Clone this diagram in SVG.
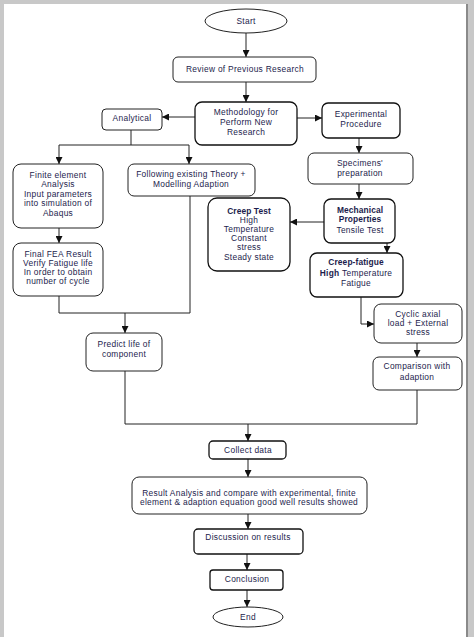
<svg xmlns="http://www.w3.org/2000/svg" width="474" height="637" viewBox="0 0 474 637">
<style>
.b{fill:#fff;stroke:#222;stroke-width:1}
.bb{fill:#fff;stroke:#111;stroke-width:1.3}
.t{font-family:"Liberation Sans",Arial,sans-serif;font-size:8.4px;letter-spacing:0.3px;fill:#1c1c4c;text-anchor:middle}
.tb{font-weight:bold;letter-spacing:0.1px}
.c{fill:none;stroke:#222;stroke-width:1}
</style>
<defs>
<marker id="ah" viewBox="0 0 10 10" refX="10" refY="5" markerWidth="7" markerHeight="7" markerUnits="userSpaceOnUse" orient="auto">
<path d="M0,0 L10,5 L0,10 z" fill="#111"/>
</marker>
</defs>
<rect x="0" y="0" width="474" height="637" fill="#c8c8c8"/>
<rect x="4" y="4" width="462" height="633" fill="#fff"/>
<line x1="467" y1="4" x2="467" y2="637" stroke="#8a8a8a" stroke-width="2"/>

<g id="connectors">
<line class="c" x1="246" y1="33" x2="246" y2="57" marker-end="url(#ah)"/>
<line class="c" x1="246" y1="82" x2="246" y2="102" marker-end="url(#ah)"/>
<line class="c" x1="195" y1="117" x2="162" y2="117" marker-end="url(#ah)"/>
<line class="c" x1="297" y1="118" x2="322" y2="118" marker-end="url(#ah)"/>
<line class="c" x1="359" y1="138" x2="359" y2="153" marker-end="url(#ah)"/>
<polyline class="c" points="131,130 131,145 59,145 59,164" marker-end="url(#ah)"/>
<polyline class="c" points="131,145 189,145 189,164" marker-end="url(#ah)"/>
<line class="c" x1="59" y1="228" x2="59" y2="243" marker-end="url(#ah)"/>
<polyline class="c" points="59,296 59,313 190,313 190,196"/>
<line class="c" x1="125" y1="313" x2="125" y2="333" marker-end="url(#ah)"/>
<line class="c" x1="359" y1="184" x2="359" y2="199" marker-end="url(#ah)"/>
<line class="c" x1="324" y1="222" x2="290" y2="222" marker-end="url(#ah)"/>
<line class="c" x1="387" y1="243" x2="387" y2="253" marker-end="url(#ah)"/>
<polyline class="c" points="361,297 361,324 374,324" marker-end="url(#ah)"/>
<line class="c" x1="417" y1="343" x2="417" y2="357" marker-end="url(#ah)"/>
<polyline class="c" points="125,371 125,424 417,424 417,390"/>
<line class="c" x1="248" y1="424" x2="248" y2="441" marker-end="url(#ah)"/>
<line class="c" x1="248" y1="459" x2="248" y2="477" marker-end="url(#ah)"/>
<line class="c" x1="248" y1="514" x2="248" y2="529" marker-end="url(#ah)"/>
<line class="c" x1="247" y1="554" x2="247" y2="570" marker-end="url(#ah)"/>
<line class="c" x1="247" y1="590" x2="247" y2="607" marker-end="url(#ah)"/>
</g>

<g id="start">
<ellipse class="b" cx="246" cy="21" rx="41" ry="12"/>
<text class="t" x="246" y="24">Start</text>
</g>
<g id="review">
<rect class="b" x="173" y="57" width="143" height="25" rx="5"/>
<text class="t" x="245" y="72">Review of Previous Research</text>
</g>
<g id="methodology">
<rect class="bb" x="195" y="102" width="102" height="43" rx="7"/>
<text class="t" x="246" y="115">Methodology for</text>
<text class="t" x="246" y="125">Perform New</text>
<text class="t" x="246" y="135">Research</text>
</g>
<g id="analytical">
<rect class="b" x="102" y="109" width="60" height="21" rx="4"/>
<text class="t" x="132" y="121">Analytical</text>
</g>
<g id="experimental">
<rect class="bb" x="322" y="103" width="78" height="35" rx="6"/>
<text class="t" x="361" y="117">Experimental</text>
<text class="t" x="361" y="127">Procedure</text>
</g>
<g id="specimens">
<rect class="b" x="308" y="153" width="105" height="31" rx="6"/>
<text class="t" x="360" y="166">Specimens'</text>
<text class="t" x="360" y="176">preparation</text>
</g>
<g id="finite">
<rect class="b" x="13" y="164" width="90" height="64" rx="8"/>
<text class="t" x="58" y="178">Finite element</text>
<text class="t" x="58" y="187">Analysis</text>
<text class="t" x="58" y="197">Input parameters</text>
<text class="t" x="58" y="206">into simulation of</text>
<text class="t" x="58" y="216">Abaqus</text>
</g>
<g id="following">
<rect class="b" x="128" y="164" width="127" height="32" rx="6"/>
<text class="t" x="191" y="177">Following existing Theory +</text>
<text class="t" x="191" y="187">Modelling Adaption</text>
</g>
<g id="final">
<rect class="b" x="13" y="243" width="90" height="53" rx="8"/>
<text class="t" x="58" y="257">Final FEA Result</text>
<text class="t" x="58" y="266">Verify Fatigue life</text>
<text class="t" x="58" y="275">In order to obtain</text>
<text class="t" x="58" y="284">number of cycle</text>
</g>
<g id="mechanical">
<rect class="bb" x="324" y="199" width="71" height="44" rx="7"/>
<text class="t tb" x="360" y="213">Mechanical</text>
<text class="t tb" x="360" y="222">Properties</text>
<text class="t" x="360" y="233">Tensile Test</text>
</g>
<g id="creep">
<rect class="bb" x="208" y="198" width="82" height="73" rx="9"/>
<text class="t tb" x="249" y="214">Creep Test</text>
<text class="t" x="249" y="223">High</text>
<text class="t" x="249" y="232">Temperature</text>
<text class="t" x="249" y="241">Constant</text>
<text class="t" x="249" y="250">stress</text>
<text class="t" x="249" y="260">Steady state</text>
</g>
<g id="creepfatigue">
<rect class="bb" x="310" y="253" width="93" height="44" rx="7"/>
<text class="t tb" x="356" y="265">Creep-fatigue</text>
<text class="t" x="356" y="276"><tspan font-weight="bold">High</tspan> Temperature</text>
<text class="t" x="356" y="286">Fatigue</text>
</g>
<g id="cyclic">
<rect class="b" x="374" y="304" width="88" height="39" rx="7"/>
<text class="t" x="418" y="317">Cyclic axial</text>
<text class="t" x="418" y="326">load + External</text>
<text class="t" x="418" y="335">stress</text>
</g>
<g id="comparison">
<rect class="b" x="373" y="357" width="89" height="33" rx="6"/>
<text class="t" x="417" y="369">Comparison with</text>
<text class="t" x="417" y="380">adaption</text>
</g>
<g id="predict">
<rect class="b" x="86" y="333" width="76" height="38" rx="7"/>
<text class="t" x="124" y="347">Predict life of</text>
<text class="t" x="124" y="357">component</text>
</g>
<g id="collect">
<rect class="bb" x="209" y="441" width="77" height="18" rx="4"/>
<text class="t" x="248" y="453">Collect data</text>
</g>
<g id="result">
<rect class="b" x="132" y="477" width="235" height="37" rx="7"/>
<text class="t" x="249" y="496">Result Analysis and compare with experimental,  finite</text>
<text class="t" x="249" y="505">element &amp; adaption equation good well results showed</text>
</g>
<g id="discussion">
<rect class="bb" x="194" y="529" width="109" height="25" rx="4"/>
<text class="t" x="248" y="540">Discussion on results</text>
</g>
<g id="conclusion">
<rect class="bb" x="210" y="570" width="73" height="20" rx="3"/>
<text class="t" x="247" y="582">Conclusion</text>
</g>
<g id="end">
<ellipse class="b" cx="248" cy="617" rx="35" ry="10"/>
<text class="t" x="248" y="620">End</text>
</g>
</svg>
